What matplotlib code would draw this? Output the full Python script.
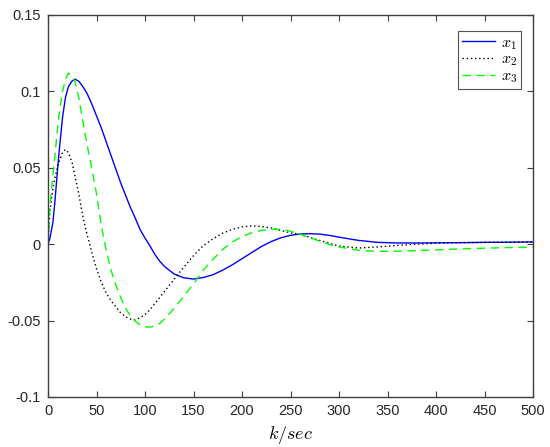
import matplotlib
matplotlib.use("Agg")
import matplotlib.pyplot as plt
from matplotlib.ticker import FixedLocator

# time axis samples
k = [0, 2, 5, 7, 10, 12, 15, 18, 21, 25, 28, 32, 36, 40, 45, 50, 55, 60, 65, 70,
     75, 80, 85, 90, 95, 100, 105, 110, 115, 120, 130, 140, 150, 160, 170, 180,
     190, 200, 210, 220, 230, 240, 250, 260, 270, 280, 290, 300, 320, 340, 360,
     380, 400, 425, 450, 475, 500]

x1 = [0, 0.004, 0.014, 0.027, 0.050, 0.064, 0.083, 0.096, 0.103, 0.107, 0.108,
      0.1065, 0.103, 0.099, 0.092, 0.084, 0.076, 0.067, 0.058, 0.049, 0.040,
      0.032, 0.024, 0.017, 0.0095, 0.004, -0.001, -0.0065, -0.011, -0.0145,
      -0.0195, -0.022, -0.0228, -0.0218, -0.0200, -0.0170, -0.0135, -0.0095,
      -0.0055, -0.0015, 0.0017, 0.0042, 0.0058, 0.0067, 0.0069, 0.0066, 0.0058,
      0.0046, 0.0025, 0.0012, 0.0008, 0.0008, 0.0009, 0.0010, 0.0012, 0.0013,
      0.0015]

x2 = [0, 0.022, 0.036, 0.043, 0.051, 0.055, 0.060, 0.062, 0.060, 0.053, 0.044,
      0.032, 0.018, 0.007, -0.005, -0.016, -0.025, -0.032, -0.037, -0.041,
      -0.045, -0.0475, -0.049, -0.0495, -0.048, -0.046, -0.043, -0.039, -0.035,
      -0.031, -0.023, -0.015, -0.0075, -0.001, 0.0035, 0.0072, 0.0097, 0.0113,
      0.0120, 0.0116, 0.0106, 0.0090, 0.0074, 0.0064, 0.0045, 0.0025, 0.0006,
      -0.0012, -0.0025, -0.0018, -0.0008, 0.0, 0.0007, 0.0010, 0.0012, 0.0013,
      0.0014]

x3 = [0, 0.025, 0.045, 0.057, 0.077, 0.088, 0.100, 0.108, 0.112, 0.110, 0.106,
      0.095, 0.080, 0.066, 0.050, 0.033, 0.012, -0.004, -0.017, -0.027, -0.035,
      -0.042, -0.047, -0.0505, -0.0528, -0.0540, -0.0543, -0.0535, -0.052,
      -0.049, -0.042, -0.034, -0.026, -0.017, -0.010, -0.0035, 0.0015, 0.005,
      0.0075, 0.0090, 0.0098, 0.0098, 0.0085, 0.0065, 0.0042, 0.0020, -0.0002,
      -0.0018, -0.0040, -0.0047, -0.0046, -0.0042, -0.0037, -0.0031, -0.0026,
      -0.0022, -0.0019]

xticks = [0, 50, 100, 150, 200, 250, 300, 350, 400, 450, 500]
yticks = [-0.1, -0.05, 0, 0.05, 0.1, 0.15]
ytick_labels = ["-0.1", "-0.05", "0", "0.05", "0.1", "0.15"]
legend_labels = ["$x_1$", "$x_2$", "$x_3$"]

plt.rcParams["font.family"] = ["Liberation Sans", "DejaVu Sans"]
plt.rcParams["mathtext.fontset"] = "cm"

fig = plt.figure(figsize=(5.5, 4.47), dpi=100)
ax = fig.add_axes([48 / 550, 1 - 397 / 447, (533 - 48) / 550, (397 - 15) / 447])

ax.plot(k, x1, color="#0000ff", lw=1.0, ls="-", label=legend_labels[0])
ax.plot(k, x2, color="black", lw=1.0, ls=(0, (1, 2)), label=legend_labels[1])
ax.plot(k, x3, color="#00ff00", lw=1.0, ls=(0, (6, 4)), label=legend_labels[2])

ax.set_xlim(0, 500)
ax.set_ylim(-0.1, 0.15)
ax.xaxis.set_major_locator(FixedLocator(xticks))
ax.yaxis.set_major_locator(FixedLocator(yticks))
ax.set_xticklabels([str(t) for t in xticks])
ax.set_yticklabels(ytick_labels)

axis_color = "#404040"
for s in ax.spines.values():
    s.set_color(axis_color)
    s.set_linewidth(1.0)
ax.tick_params(direction="in", length=4, width=0.8, color=axis_color,
               labelsize=10.5, labelcolor="#262626", top=True, right=True, pad=5)

ax.set_xlabel("$k/sec$", fontsize=13, labelpad=4)

# legend box approx. x 459-521 px, y 31-85 px
leg = ax.legend(loc="upper right",
                bbox_to_anchor=((521 - 48) / 485, (397 - 31) / 382),
                fontsize=11.5, frameon=True, fancybox=False, edgecolor="#262626",
                handlelength=2.05, borderpad=0.25, labelspacing=0.0,
                handletextpad=0.35, borderaxespad=0)
leg.get_frame().set_linewidth(0.8)

fig.savefig("out.png", dpi=100)
